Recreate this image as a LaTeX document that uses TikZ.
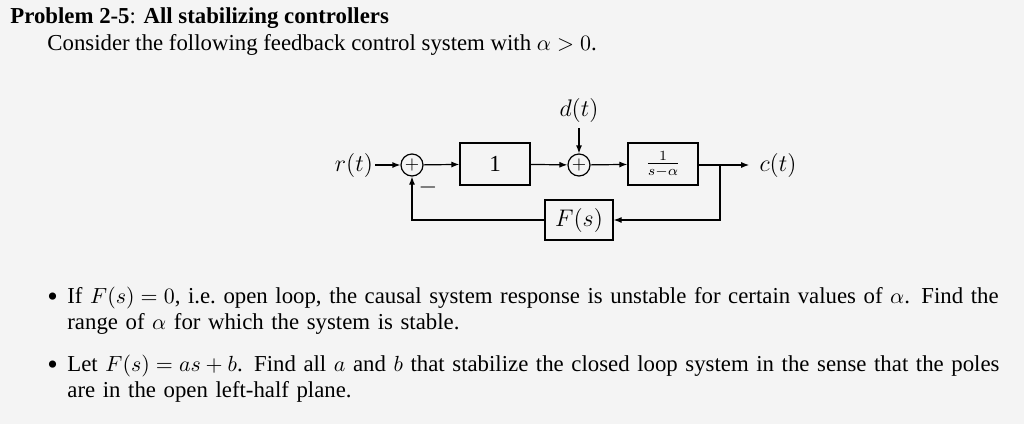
\documentclass[tikz,border=0pt]{standalone}
\usepackage{fontspec}
\setmainfont{Liberation Serif}
\usetikzlibrary{arrows.meta}
\begin{document}
\begin{tikzpicture}[x=0.5pt,y=-0.5pt,
  font=\fontsize{11.5}{14}\selectfont,
  blk/.style={draw,line width=0.6pt,minimum width=35pt,minimum height=21pt,inner sep=0pt},
  sumc/.style={draw,circle,line width=0.6pt,minimum size=11pt,inner sep=0pt},
  sig/.style={-{Latex[length=4pt,width=3pt]},line width=0.6pt},
  txt/.style={anchor=west,inner sep=0pt,font=\fontsize{11.4}{13}\selectfont}]
\fill[gray!9] (0,0) rectangle (1024,424);
\useasboundingbox (0,0) rectangle (1024,424);
\node[txt] (title) at (10,18) {\textbf{Problem 2-5}: \textbf{All stabilizing controllers}};
\node[txt] (cons) at (47,45) {Consider the following feedback control system with $\alpha>0$.};
% diagram
\node[inner sep=1pt] (r) at (354,165) {$r(t)$};
\node[sumc,font=\small] (s1) at (412,165) {$+$};
\node[blk] (b1) at (495,164) {1};
\node[sumc,font=\small] (s2) at (579,165) {$+$};
\node[inner sep=0pt] (d) at (579,110) {$d(t)$};
\node[blk,font=\normalsize] (b2) at (663,164) {$\frac{1}{s-\alpha}$};
\node[blk,minimum width=34pt,minimum height=20pt] (F) at (579,220) {$F(s)$};
\coordinate (br) at (720,165);
\node[inner sep=1pt] (c) at (778,165) {$c(t)$};
\coordinate (dtop) at (579,128);
\node[inner sep=0pt] (minus) at (428,187) {$-$};
\draw[sig] (r) -- (s1);
\draw[sig] (s1) -- (b1);
\draw[sig] (b1) -- (s2);
\draw[sig] (dtop) -- (s2);
\draw[sig] (s2) -- (b2);
\draw[sig] (b2.east|-br) -- ([xshift=-4pt]c.west);
\draw[sig] (br) |- (F.east);
\draw[sig] (F.west) -| (s1.south);
% bullets
\node[txt,font=\fontsize{15}{15}\selectfont] (bul1) at (47,300) {\textbullet};
\node[txt,text width=480pt] (t1) at (67,311) {If $F(s)=0$, i.e.\ open loop, the causal system response is unstable for certain values of $\alpha$. Find the\\range of $\alpha$ for which the system is stable.};
\node[txt,font=\fontsize{15}{15}\selectfont] (bul2) at (47,368) {\textbullet};
\node[txt,text width=480pt] (t2) at (67,379) {Let $F(s)=as+b$. Find all $a$ and $b$ that stabilize the closed loop system in the sense that the poles\\are in the open left-half plane.};
\end{tikzpicture}
\end{document}
